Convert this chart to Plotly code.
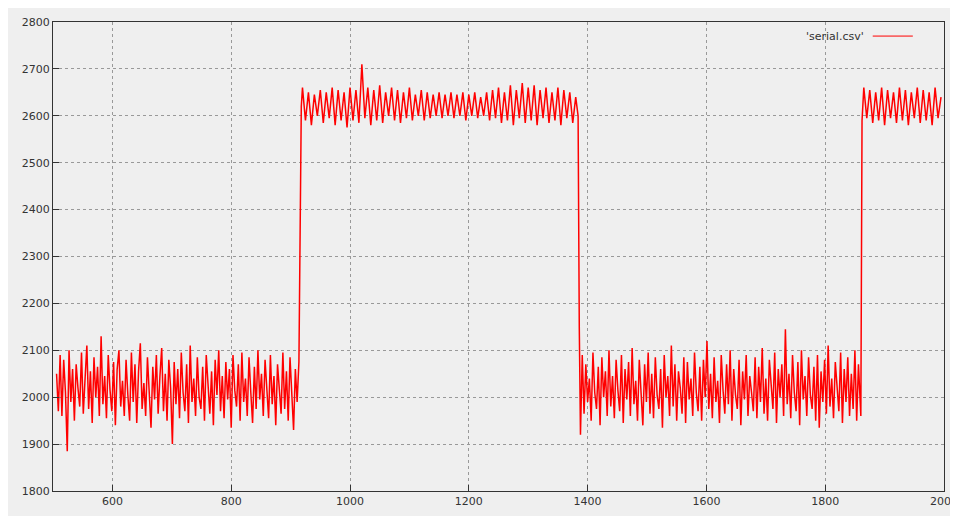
import plotly.graph_objects as go
import numpy as np

# Readings
low1_x = np.arange(506, 915, 3)
low1_y = [
    2050,1970,2090,1960,2080,2010,1885,2100,1990,2060,1950,2070,2020,1980,2095,1965,2040,2110,1975,2055,
    1945,2085,2000,2065,1960,2130,1985,2045,1955,2090,2015,1970,2075,1940,2060,2100,1980,2035,1960,2080,
    2005,1950,2095,1990,2070,1945,2055,2115,1975,2030,1960,2085,2010,1935,2065,1995,2090,1965,2045,2105,
    1970,2050,1950,2080,2020,1900,2075,1985,2060,1955,2095,2010,1970,2070,1945,2110,1990,2040,1960,2085,
    2000,1975,2065,1950,2090,2025,1965,2055,1940,2080,2005,2100,1970,2045,1955,2075,1995,2060,1935,2090,
    2015,1980,2070,1950,2095,1990,2040,1960,2085,2010,1945,2065,1975,2100,1995,2050,1960,2080,2020,1955,
    2090,1985,2045,1940,2070,2005,1965,2095,1975,2055,1950,2085,2000,1930,2060,1990,2075,
]
rise1_x = [916, 918]
rise1_y = [2430, 2620]

high1_x = np.arange(920, 1381, 5)
high1_y = [
    2660,2590,2650,2580,2645,2600,2655,2585,2650,2595,
    2660,2580,2655,2590,2650,2575,2660,2590,2655,2585,
    2710,2595,2660,2580,2655,2590,2665,2585,2650,2600,
    2660,2590,2655,2585,2650,2595,2660,2590,2645,2600,
    2655,2590,2650,2595,2645,2600,2650,2595,2645,2600,
    2650,2595,2645,2600,2650,2590,2645,2600,2650,2595,
    2640,2600,2650,2590,2655,2595,2660,2585,2650,2590,
    2665,2580,2655,2595,2670,2585,2660,2590,2665,2580,
    2655,2595,2660,2585,2650,2590,2660,2580,2655,2595,
    2650,2585,2640,
]
fall1_x = [1384, 1386]
fall1_y = [2600, 2150]

low2_x = np.arange(1388, 1859, 3)
low2_y = [
    1920,2090,1965,2070,1990,2040,1950,2095,2010,1975,2065,1940,2085,2000,2055,1960,2100,1980,2045,1955,
    2080,2015,1970,2090,1945,2060,1995,2075,1960,2105,1985,2035,1950,2080,2010,1940,2070,1990,2095,1965,
    2050,1955,2085,2005,1975,2060,1935,2090,2000,2045,1960,2110,1980,2070,1950,2055,2020,1965,2085,1945,
    2075,1995,2040,1960,2095,2010,1970,2065,1950,2080,2000,2120,1975,2050,1955,2085,1990,2035,1945,2090,
    2015,1965,2070,1985,2100,1950,2060,2005,1975,2080,1940,2055,1995,2090,1960,2045,2010,1970,2085,1955,
    2065,1990,2105,1965,2040,1950,2080,2020,1975,2095,1945,2060,2000,2070,1960,2145,1985,2050,1955,2090,
    2010,1970,2075,1940,2100,1995,2045,1960,2085,2005,1975,2065,1950,2090,1935,2055,1990,2080,1965,2110,
    1980,2040,1955,2075,2015,1970,2095,1945,2060,1990,2085,1960,2050,1975,2100,1950,2070,
]
rise2_x = [1860, 1862]
rise2_y = [1960, 2590]

high2_x = np.arange(1865, 2001, 5)
high2_y = [
    2660,2595,2655,2585,2650,2590,2660,2580,2655,2595,
    2650,2585,2660,2590,2655,2580,2650,2595,2660,2585,
    2655,2590,2650,2580,2660,2595,2640,
]

x = np.concatenate([low1_x, rise1_x, high1_x, fall1_x, low2_x, rise2_x, high2_x])
y = np.concatenate([low1_y, rise1_y, high1_y, fall1_y, low2_y, rise2_y, high2_y])

fig = go.Figure(go.Scatter(x=x, y=y, mode="lines",
                           line=dict(color="#ff0000", width=1.5), showlegend=False))

axis_style = dict(showgrid=True, gridcolor="#999", griddash="dot", gridwidth=1,
                  zeroline=False, showline=True, linecolor="#333", mirror=True,
                  ticks="inside", ticklen=6, tickcolor="#333",
                  tickfont=dict(family="DejaVu Sans", size=11, color="#333"))

fig.update_layout(
    width=958, height=516,
    margin=dict(l=45, r=22, t=8, b=33),
    paper_bgcolor="#efefef", plot_bgcolor="#efefef",
    xaxis=dict(range=[500, 2000], dtick=200, **axis_style),
    yaxis=dict(range=[1800, 2800], dtick=100, **axis_style),
)

# gnuplot-style key: label then line sample
fig.add_annotation(xref="paper", yref="paper", x=0.912, y=0.97, xanchor="right",
                   yanchor="middle", text="'serial.csv'", showarrow=False,
                   font=dict(family="DejaVu Sans", size=11, color="#333"))
fig.add_shape(type="line", xref="paper", yref="paper", x0=0.92, x1=0.965, y0=0.97, y1=0.97,
              line=dict(color="#ff0000", width=1))

fig.write_html("out.html")
